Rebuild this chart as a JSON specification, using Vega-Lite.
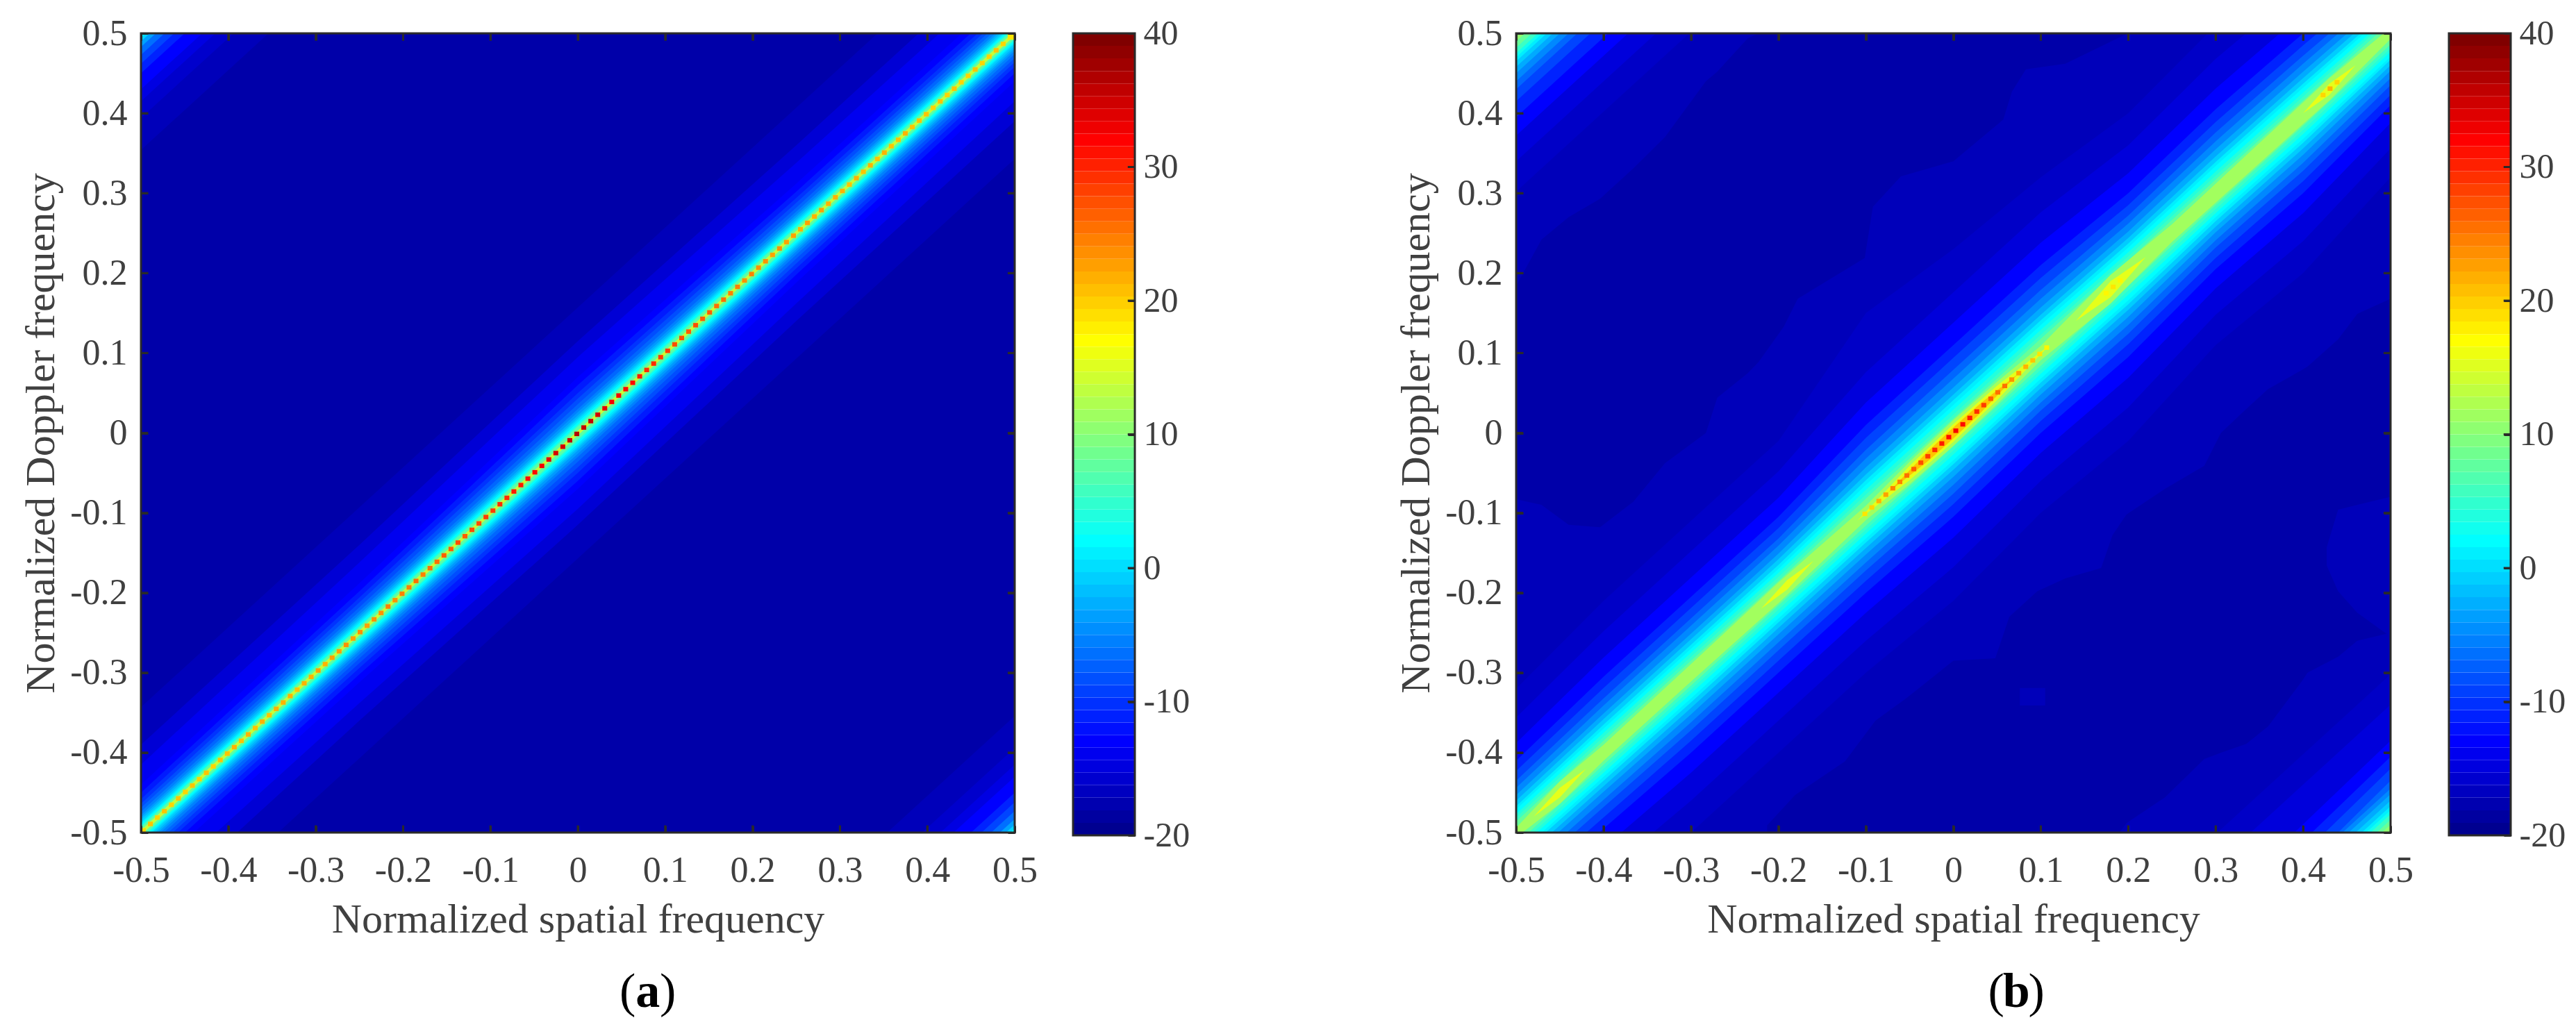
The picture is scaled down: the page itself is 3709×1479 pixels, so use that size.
{
"$schema":"https://vega.github.io/schema/vega-lite/v6.json",
"padding":{"left":29,"top":22,"right":0,"bottom":0},
"background":"white",
"config":{"view":{"stroke":null},"axis":{"labelFont":"Liberation Serif","titleFont":"Liberation Serif","labelFontSize":52,"titleFontSize":60,"titleFontWeight":"normal","labelColor":"#404040","titleColor":"#404040","domain":false,"tickColor":"#2a2a2a","tickWidth":3,"tickSize":-10,"grid":false,"labelFlush":false,"labelOverlap":false}},
"datasets":{
"tv":[{"x":-0.4,"y":-0.5,"y2":-0.491},{"x":-0.3,"y":-0.5,"y2":-0.491},{"x":-0.2,"y":-0.5,"y2":-0.491},{"x":-0.1,"y":-0.5,"y2":-0.491},{"x":0,"y":-0.5,"y2":-0.491},{"x":0.1,"y":-0.5,"y2":-0.491},{"x":0.2,"y":-0.5,"y2":-0.491},{"x":0.3,"y":-0.5,"y2":-0.491},{"x":0.4,"y":-0.5,"y2":-0.491},{"x":-0.4,"y":0.5,"y2":0.491},{"x":-0.3,"y":0.5,"y2":0.491},{"x":-0.2,"y":0.5,"y2":0.491},{"x":-0.1,"y":0.5,"y2":0.491},{"x":0,"y":0.5,"y2":0.491},{"x":0.1,"y":0.5,"y2":0.491},{"x":0.2,"y":0.5,"y2":0.491},{"x":0.3,"y":0.5,"y2":0.491},{"x":0.4,"y":0.5,"y2":0.491}],
"th":[{"y":-0.4,"x":-0.5,"x2":-0.492},{"y":-0.3,"x":-0.5,"x2":-0.492},{"y":-0.2,"x":-0.5,"x2":-0.492},{"y":-0.1,"x":-0.5,"x2":-0.492},{"y":0,"x":-0.5,"x2":-0.492},{"y":0.1,"x":-0.5,"x2":-0.492},{"y":0.2,"x":-0.5,"x2":-0.492},{"y":0.3,"x":-0.5,"x2":-0.492},{"y":0.4,"x":-0.5,"x2":-0.492},{"y":-0.4,"x":0.5,"x2":0.492},{"y":-0.3,"x":0.5,"x2":0.492},{"y":-0.2,"x":0.5,"x2":0.492},{"y":-0.1,"x":0.5,"x2":0.492},{"y":0,"x":0.5,"x2":0.492},{"y":0.1,"x":0.5,"x2":0.492},{"y":0.2,"x":0.5,"x2":0.492},{"y":0.3,"x":0.5,"x2":0.492},{"y":0.4,"x":0.5,"x2":0.492}],
"tc":[{"y":-10,"x":0.885,"x2":1},{"y":0,"x":0.885,"x2":1},{"y":10,"x":0.885,"x2":1},{"y":20,"x":0.885,"x2":1},{"y":30,"x":0.885,"x2":1}],
"cb":[{"lo":-20,"hi":-19.0625},{"lo":-19.0625,"hi":-18.125},{"lo":-18.125,"hi":-17.1875},{"lo":-17.1875,"hi":-16.25},{"lo":-16.25,"hi":-15.3125},{"lo":-15.3125,"hi":-14.375},{"lo":-14.375,"hi":-13.4375},{"lo":-13.4375,"hi":-12.5},{"lo":-12.5,"hi":-11.5625},{"lo":-11.5625,"hi":-10.625},{"lo":-10.625,"hi":-9.6875},{"lo":-9.6875,"hi":-8.75},{"lo":-8.75,"hi":-7.8125},{"lo":-7.8125,"hi":-6.875},{"lo":-6.875,"hi":-5.9375},{"lo":-5.9375,"hi":-5},{"lo":-5,"hi":-4.0625},{"lo":-4.0625,"hi":-3.125},{"lo":-3.125,"hi":-2.1875},{"lo":-2.1875,"hi":-1.25},{"lo":-1.25,"hi":-0.3125},{"lo":-0.3125,"hi":0.625},{"lo":0.625,"hi":1.5625},{"lo":1.5625,"hi":2.5},{"lo":2.5,"hi":3.4375},{"lo":3.4375,"hi":4.375},{"lo":4.375,"hi":5.3125},{"lo":5.3125,"hi":6.25},{"lo":6.25,"hi":7.1875},{"lo":7.1875,"hi":8.125},{"lo":8.125,"hi":9.0625},{"lo":9.0625,"hi":10},{"lo":10,"hi":10.9375},{"lo":10.9375,"hi":11.875},{"lo":11.875,"hi":12.8125},{"lo":12.8125,"hi":13.75},{"lo":13.75,"hi":14.6875},{"lo":14.6875,"hi":15.625},{"lo":15.625,"hi":16.5625},{"lo":16.5625,"hi":17.5},{"lo":17.5,"hi":18.4375},{"lo":18.4375,"hi":19.375},{"lo":19.375,"hi":20.3125},{"lo":20.3125,"hi":21.25},{"lo":21.25,"hi":22.1875},{"lo":22.1875,"hi":23.125},{"lo":23.125,"hi":24.0625},{"lo":24.0625,"hi":25},{"lo":25,"hi":25.9375},{"lo":25.9375,"hi":26.875},{"lo":26.875,"hi":27.8125},{"lo":27.8125,"hi":28.75},{"lo":28.75,"hi":29.6875},{"lo":29.6875,"hi":30.625},{"lo":30.625,"hi":31.5625},{"lo":31.5625,"hi":32.5},{"lo":32.5,"hi":33.4375},{"lo":33.4375,"hi":34.375},{"lo":34.375,"hi":35.3125},{"lo":35.3125,"hi":36.25},{"lo":36.25,"hi":37.1875},{"lo":37.1875,"hi":38.125},{"lo":38.125,"hi":39.0625},{"lo":39.0625,"hi":40}],
"aBands":[
{"b":"bg","v":-17.6,"x":-0.5,"y":0.5,"y2":-0.5},{"b":"bg","v":-17.6,"x":0.5,"y":0.5,"y2":-0.5},
{"b":"a1","v":-16.6,"x":-0.5,"y":-0.343,"y2":-0.657},{"b":"a1","v":-16.6,"x":0.5,"y":0.657,"y2":0.343},
{"b":"a2","v":-15,"x":-0.5,"y":-0.39,"y2":-0.61},{"b":"a2","v":-15,"x":-0.25,"y":-0.14,"y2":-0.36},{"b":"a2","v":-15,"x":0,"y":0.115,"y2":-0.115},{"b":"a2","v":-15,"x":0.25,"y":0.36,"y2":0.14},{"b":"a2","v":-15,"x":0.5,"y":0.61,"y2":0.39},
{"b":"a3","v":-13.4,"x":-0.5,"y":-0.415,"y2":-0.585},{"b":"a3","v":-13.4,"x":-0.25,"y":-0.162,"y2":-0.338},{"b":"a3","v":-13.4,"x":0,"y":0.095,"y2":-0.095},{"b":"a3","v":-13.4,"x":0.25,"y":0.338,"y2":0.162},{"b":"a3","v":-13.4,"x":0.5,"y":0.585,"y2":0.415},
{"b":"a4","v":-12.5,"x":-0.5,"y":-0.44,"y2":-0.56},{"b":"a4","v":-12.5,"x":-0.25,"y":-0.188,"y2":-0.312},{"b":"a4","v":-12.5,"x":0,"y":0.07,"y2":-0.07},{"b":"a4","v":-12.5,"x":0.25,"y":0.312,"y2":0.188},{"b":"a4","v":-12.5,"x":0.5,"y":0.56,"y2":0.44},
{"b":"a5","v":-11,"x":-0.5,"y":-0.45,"y2":-0.55},{"b":"a5","v":-11,"x":-0.25,"y":-0.198,"y2":-0.302},{"b":"a5","v":-11,"x":0,"y":0.06,"y2":-0.06},{"b":"a5","v":-11,"x":0.25,"y":0.302,"y2":0.198},{"b":"a5","v":-11,"x":0.5,"y":0.55,"y2":0.45},
{"b":"a6","v":-9.5,"x":-0.5,"y":-0.458,"y2":-0.542},{"b":"a6","v":-9.5,"x":-0.25,"y":-0.206,"y2":-0.294},{"b":"a6","v":-9.5,"x":0,"y":0.05,"y2":-0.05},{"b":"a6","v":-9.5,"x":0.25,"y":0.294,"y2":0.206},{"b":"a6","v":-9.5,"x":0.5,"y":0.542,"y2":0.458},
{"b":"a7","v":-8,"x":-0.5,"y":-0.464,"y2":-0.536},{"b":"a7","v":-8,"x":-0.25,"y":-0.212,"y2":-0.288},{"b":"a7","v":-8,"x":0,"y":0.043,"y2":-0.043},{"b":"a7","v":-8,"x":0.25,"y":0.288,"y2":0.212},{"b":"a7","v":-8,"x":0.5,"y":0.536,"y2":0.464},
{"b":"a8","v":-6.5,"x":-0.5,"y":-0.469,"y2":-0.531},{"b":"a8","v":-6.5,"x":-0.25,"y":-0.218,"y2":-0.282},{"b":"a8","v":-6.5,"x":0,"y":0.036,"y2":-0.036},{"b":"a8","v":-6.5,"x":0.25,"y":0.282,"y2":0.218},{"b":"a8","v":-6.5,"x":0.5,"y":0.531,"y2":0.469},
{"b":"a9","v":-5,"x":-0.5,"y":-0.474,"y2":-0.526},{"b":"a9","v":-5,"x":-0.25,"y":-0.223,"y2":-0.277},{"b":"a9","v":-5,"x":0,"y":0.03,"y2":-0.03},{"b":"a9","v":-5,"x":0.25,"y":0.277,"y2":0.223},{"b":"a9","v":-5,"x":0.5,"y":0.526,"y2":0.474},
{"b":"a10","v":-3.5,"x":-0.5,"y":-0.478,"y2":-0.522},{"b":"a10","v":-3.5,"x":-0.25,"y":-0.227,"y2":-0.273},{"b":"a10","v":-3.5,"x":0,"y":0.026,"y2":-0.026},{"b":"a10","v":-3.5,"x":0.25,"y":0.273,"y2":0.227},{"b":"a10","v":-3.5,"x":0.5,"y":0.522,"y2":0.478},
{"b":"a11","v":-2,"x":-0.5,"y":-0.481,"y2":-0.519},{"b":"a11","v":-2,"x":-0.25,"y":-0.23,"y2":-0.27},{"b":"a11","v":-2,"x":0,"y":0.022,"y2":-0.022},{"b":"a11","v":-2,"x":0.25,"y":0.27,"y2":0.23},{"b":"a11","v":-2,"x":0.5,"y":0.519,"y2":0.481},
{"b":"a12","v":-0.5,"x":-0.5,"y":-0.484,"y2":-0.516},{"b":"a12","v":-0.5,"x":-0.25,"y":-0.233,"y2":-0.267},{"b":"a12","v":-0.5,"x":0,"y":0.019,"y2":-0.019},{"b":"a12","v":-0.5,"x":0.25,"y":0.267,"y2":0.233},{"b":"a12","v":-0.5,"x":0.5,"y":0.516,"y2":0.484},
{"b":"a13","v":1,"x":-0.5,"y":-0.487,"y2":-0.513},{"b":"a13","v":1,"x":-0.25,"y":-0.2355,"y2":-0.2645},{"b":"a13","v":1,"x":0,"y":0.0165,"y2":-0.0165},{"b":"a13","v":1,"x":0.25,"y":0.2645,"y2":0.2355},{"b":"a13","v":1,"x":0.5,"y":0.513,"y2":0.487},
{"b":"a14","v":2.5,"x":-0.5,"y":-0.489,"y2":-0.511},{"b":"a14","v":2.5,"x":-0.25,"y":-0.238,"y2":-0.262},{"b":"a14","v":2.5,"x":0,"y":0.0135,"y2":-0.0135},{"b":"a14","v":2.5,"x":0.25,"y":0.262,"y2":0.238},{"b":"a14","v":2.5,"x":0.5,"y":0.511,"y2":0.489},
{"b":"a15","v":5,"x":-0.5,"y":-0.4915,"y2":-0.5085},{"b":"a15","v":5,"x":-0.25,"y":-0.241,"y2":-0.259},{"b":"a15","v":5,"x":0,"y":0.0105,"y2":-0.0105},{"b":"a15","v":5,"x":0.25,"y":0.259,"y2":0.241},{"b":"a15","v":5,"x":0.5,"y":0.5085,"y2":0.4915},
{"b":"a16","v":8,"x":-0.5,"y":-0.4935,"y2":-0.5065},{"b":"a16","v":8,"x":-0.25,"y":-0.243,"y2":-0.257},{"b":"a16","v":8,"x":0,"y":0.008,"y2":-0.008},{"b":"a16","v":8,"x":0.25,"y":0.257,"y2":0.243},{"b":"a16","v":8,"x":0.5,"y":0.5065,"y2":0.4935},
{"b":"a17","v":14,"x":-0.5,"y":-0.497,"y2":-0.503},{"b":"a17","v":14,"x":0.5,"y":0.503,"y2":0.497},
{"b":"t1","v":-16.6,"x":-0.5,"y":0.5,"y2":0.354},{"b":"t1","v":-16.6,"x":-0.354,"y":0.5,"y2":0.5},
{"b":"t2","v":-15.5,"x":-0.5,"y":0.5,"y2":0.394},{"b":"t2","v":-15.5,"x":-0.394,"y":0.5,"y2":0.5},
{"b":"t3","v":-14.2,"x":-0.5,"y":0.5,"y2":0.415},{"b":"t3","v":-14.2,"x":-0.415,"y":0.5,"y2":0.5},
{"b":"t4","v":-12.5,"x":-0.5,"y":0.5,"y2":0.43},{"b":"t4","v":-12.5,"x":-0.43,"y":0.5,"y2":0.5},
{"b":"t5","v":-10.5,"x":-0.5,"y":0.5,"y2":0.45},{"b":"t5","v":-10.5,"x":-0.45,"y":0.5,"y2":0.5},
{"b":"t6","v":-8.5,"x":-0.5,"y":0.5,"y2":0.462},{"b":"t6","v":-8.5,"x":-0.462,"y":0.5,"y2":0.5},
{"b":"t7","v":-6,"x":-0.5,"y":0.5,"y2":0.473},{"b":"t7","v":-6,"x":-0.473,"y":0.5,"y2":0.5},
{"b":"t8","v":-3,"x":-0.5,"y":0.5,"y2":0.483},{"b":"t8","v":-3,"x":-0.483,"y":0.5,"y2":0.5},
{"b":"t9","v":0,"x":-0.5,"y":0.5,"y2":0.49},{"b":"t9","v":0,"x":-0.49,"y":0.5,"y2":0.5},
{"b":"t10","v":3,"x":-0.5,"y":0.5,"y2":0.495},{"b":"t10","v":3,"x":-0.495,"y":0.5,"y2":0.5},
{"b":"r1","v":-16.6,"x":0.354,"y":-0.5,"y2":-0.5},{"b":"r1","v":-16.6,"x":0.5,"y":-0.354,"y2":-0.5},
{"b":"r2","v":-15.5,"x":0.394,"y":-0.5,"y2":-0.5},{"b":"r2","v":-15.5,"x":0.5,"y":-0.394,"y2":-0.5},
{"b":"r3","v":-14.2,"x":0.415,"y":-0.5,"y2":-0.5},{"b":"r3","v":-14.2,"x":0.5,"y":-0.415,"y2":-0.5},
{"b":"r4","v":-12.5,"x":0.43,"y":-0.5,"y2":-0.5},{"b":"r4","v":-12.5,"x":0.5,"y":-0.43,"y2":-0.5},
{"b":"r5","v":-10.5,"x":0.45,"y":-0.5,"y2":-0.5},{"b":"r5","v":-10.5,"x":0.5,"y":-0.45,"y2":-0.5},
{"b":"r6","v":-8.5,"x":0.462,"y":-0.5,"y2":-0.5},{"b":"r6","v":-8.5,"x":0.5,"y":-0.462,"y2":-0.5},
{"b":"r7","v":-6,"x":0.473,"y":-0.5,"y2":-0.5},{"b":"r7","v":-6,"x":0.5,"y":-0.473,"y2":-0.5},
{"b":"r8","v":-3,"x":0.483,"y":-0.5,"y2":-0.5},{"b":"r8","v":-3,"x":0.5,"y":-0.483,"y2":-0.5},
{"b":"r9","v":0,"x":0.49,"y":-0.5,"y2":-0.5},{"b":"r9","v":0,"x":0.5,"y":-0.49,"y2":-0.5},
{"b":"r10","v":3,"x":0.495,"y":-0.5,"y2":-0.5},{"b":"r10","v":3,"x":0.5,"y":-0.495,"y2":-0.5}
],
"aCells":[
{"x":-0.5,"x2":-0.4944,"v":20},{"x":-0.492,"x2":-0.4864,"v":21},{"x":-0.484,"x2":-0.4784,"v":20},{"x":-0.476,"x2":-0.4704,"v":21},{"x":-0.468,"x2":-0.4624,"v":20},{"x":-0.46,"x2":-0.4544,"v":21},{"x":-0.452,"x2":-0.4464,"v":20},{"x":-0.444,"x2":-0.4384,"v":21},{"x":-0.436,"x2":-0.4304,"v":20},{"x":-0.428,"x2":-0.4224,"v":21},{"x":-0.42,"x2":-0.4144,"v":20},{"x":-0.412,"x2":-0.4064,"v":21},{"x":-0.404,"x2":-0.3984,"v":21},
{"x":-0.396,"x2":-0.3904,"v":22},{"x":-0.388,"x2":-0.3824,"v":21},{"x":-0.38,"x2":-0.3744,"v":22},{"x":-0.372,"x2":-0.3664,"v":21},{"x":-0.364,"x2":-0.3584,"v":22},{"x":-0.356,"x2":-0.3504,"v":21},{"x":-0.348,"x2":-0.3424,"v":22},{"x":-0.34,"x2":-0.3344,"v":22},{"x":-0.332,"x2":-0.3264,"v":22},{"x":-0.324,"x2":-0.3184,"v":21},{"x":-0.316,"x2":-0.3104,"v":22},{"x":-0.308,"x2":-0.3024,"v":22},
{"x":-0.3,"x2":-0.2944,"v":23},{"x":-0.292,"x2":-0.2864,"v":22},{"x":-0.284,"x2":-0.2784,"v":23},{"x":-0.276,"x2":-0.2704,"v":23},{"x":-0.268,"x2":-0.2624,"v":24},{"x":-0.26,"x2":-0.2544,"v":23},{"x":-0.252,"x2":-0.2464,"v":24},{"x":-0.244,"x2":-0.2384,"v":23},{"x":-0.236,"x2":-0.2304,"v":24},{"x":-0.228,"x2":-0.2224,"v":24},{"x":-0.22,"x2":-0.2144,"v":25},{"x":-0.212,"x2":-0.2064,"v":24},{"x":-0.204,"x2":-0.1984,"v":25},
{"x":-0.196,"x2":-0.1904,"v":25},{"x":-0.188,"x2":-0.1824,"v":26},{"x":-0.18,"x2":-0.1744,"v":25},{"x":-0.172,"x2":-0.1664,"v":26},{"x":-0.164,"x2":-0.1584,"v":26},{"x":-0.156,"x2":-0.1504,"v":27},{"x":-0.148,"x2":-0.1424,"v":27},{"x":-0.14,"x2":-0.1344,"v":28},{"x":-0.132,"x2":-0.1264,"v":27},{"x":-0.124,"x2":-0.1184,"v":28},{"x":-0.116,"x2":-0.1104,"v":28},{"x":-0.108,"x2":-0.1024,"v":29},
{"x":-0.1,"x2":-0.0944,"v":29},{"x":-0.092,"x2":-0.0864,"v":30},{"x":-0.084,"x2":-0.0784,"v":30},{"x":-0.076,"x2":-0.0704,"v":31},{"x":-0.068,"x2":-0.0624,"v":31},{"x":-0.06,"x2":-0.0544,"v":32},{"x":-0.052,"x2":-0.0464,"v":32},{"x":-0.044,"x2":-0.0384,"v":33},{"x":-0.036,"x2":-0.0304,"v":34},{"x":-0.028,"x2":-0.0224,"v":35},{"x":-0.02,"x2":-0.0144,"v":35},{"x":-0.012,"x2":-0.0064,"v":36},{"x":-0.004,"x2":0.0016,"v":37},
{"x":0.004,"x2":0.0096,"v":36},{"x":0.012,"x2":0.0176,"v":36},{"x":0.02,"x2":0.0256,"v":35},{"x":0.028,"x2":0.0336,"v":34},{"x":0.036,"x2":0.0416,"v":33},{"x":0.044,"x2":0.0496,"v":33},{"x":0.052,"x2":0.0576,"v":32},{"x":0.06,"x2":0.0656,"v":32},{"x":0.068,"x2":0.0736,"v":31},{"x":0.076,"x2":0.0816,"v":30},{"x":0.084,"x2":0.0896,"v":30},{"x":0.092,"x2":0.0976,"v":29},{"x":0.1,"x2":0.1056,"v":29},
{"x":0.108,"x2":0.1136,"v":28},{"x":0.116,"x2":0.1216,"v":28},{"x":0.124,"x2":0.1296,"v":27},{"x":0.132,"x2":0.1376,"v":28},{"x":0.14,"x2":0.1456,"v":27},{"x":0.148,"x2":0.1536,"v":27},{"x":0.156,"x2":0.1616,"v":26},{"x":0.164,"x2":0.1696,"v":26},{"x":0.172,"x2":0.1776,"v":25},{"x":0.18,"x2":0.1856,"v":25},{"x":0.188,"x2":0.1936,"v":24},{"x":0.196,"x2":0.2016,"v":25},
{"x":0.204,"x2":0.2096,"v":24},{"x":0.212,"x2":0.2176,"v":24},{"x":0.22,"x2":0.2256,"v":23},{"x":0.228,"x2":0.2336,"v":24},{"x":0.236,"x2":0.2416,"v":23},{"x":0.244,"x2":0.2496,"v":23},{"x":0.252,"x2":0.2576,"v":22},{"x":0.26,"x2":0.2656,"v":23},{"x":0.268,"x2":0.2736,"v":22},{"x":0.276,"x2":0.2816,"v":23},{"x":0.284,"x2":0.2896,"v":22},{"x":0.292,"x2":0.2976,"v":22},{"x":0.3,"x2":0.3056,"v":22},
{"x":0.308,"x2":0.3136,"v":21},{"x":0.316,"x2":0.3216,"v":22},{"x":0.324,"x2":0.3296,"v":21},{"x":0.332,"x2":0.3376,"v":22},{"x":0.34,"x2":0.3456,"v":21},{"x":0.348,"x2":0.3536,"v":22},{"x":0.356,"x2":0.3616,"v":21},{"x":0.364,"x2":0.3696,"v":21},{"x":0.372,"x2":0.3776,"v":22},{"x":0.38,"x2":0.3856,"v":21},{"x":0.388,"x2":0.3936,"v":21},{"x":0.396,"x2":0.4016,"v":21},
{"x":0.404,"x2":0.4096,"v":20},{"x":0.412,"x2":0.4176,"v":21},{"x":0.42,"x2":0.4256,"v":20},{"x":0.428,"x2":0.4336,"v":21},{"x":0.436,"x2":0.4416,"v":20},{"x":0.444,"x2":0.4496,"v":20},{"x":0.452,"x2":0.4576,"v":21},{"x":0.46,"x2":0.4656,"v":20},{"x":0.468,"x2":0.4736,"v":20},{"x":0.476,"x2":0.4816,"v":21},{"x":0.484,"x2":0.4896,"v":20},{"x":0.492,"x2":0.5,"v":19}
],
"bBands":[
{"b":"bg","v":-16.6,"x":-0.5,"y":0.5,"y2":-0.5},{"b":"bg","v":-16.6,"x":0.5,"y":0.5,"y2":-0.5},
{"b":"d1","v":-17.6,"x":-0.5,"y":0.184,"y2":-0.083},{"b":"d1","v":-17.6,"x":-0.471,"y":0.242,"y2":-0.09},{"b":"d1","v":-17.6,"x":-0.44,"y":0.27,"y2":-0.115},{"b":"d1","v":-17.6,"x":-0.404,"y":0.293,"y2":-0.118},{"b":"d1","v":-17.6,"x":-0.366,"y":0.331,"y2":-0.086},{"b":"d1","v":-17.6,"x":-0.33,"y":0.37,"y2":-0.038},{"b":"d1","v":-17.6,"x":-0.283,"y":0.44,"y2":0},{"b":"d1","v":-17.6,"x":-0.27,"y":0.452,"y2":0.044},{"b":"d1","v":-17.6,"x":-0.235,"y":0.494,"y2":0.075},{"b":"d1","v":-17.6,"x":-0.2226,"y":0.5,"y2":0.089},{"b":"d1","v":-17.6,"x":-0.194,"y":0.5,"y2":0.133},{"b":"d1","v":-17.6,"x":-0.178,"y":0.5,"y2":0.168},{"b":"d1","v":-17.6,"x":-0.1014,"y":0.5,"y2":0.219},{"b":"d1","v":-17.6,"x":-0.092,"y":0.5,"y2":0.283},{"b":"d1","v":-17.6,"x":-0.06,"y":0.5,"y2":0.321},{"b":"d1","v":-17.6,"x":0,"y":0.5,"y2":0.34},{"b":"d1","v":-17.6,"x":0.057,"y":0.5,"y2":0.392},{"b":"d1","v":-17.6,"x":0.067,"y":0.5,"y2":0.427},{"b":"d1","v":-17.6,"x":0.083,"y":0.5,"y2":0.455},{"b":"d1","v":-17.6,"x":0.128,"y":0.5,"y2":0.462},{"b":"d1","v":-17.6,"x":0.188,"y":0.5,"y2":0.494},{"b":"d1","v":-17.6,"x":0.2,"y":0.5,"y2":0.5},
{"b":"d2","v":-17.6,"x":-0.213,"y":-0.491,"y2":-0.5},{"b":"d2","v":-17.6,"x":-0.181,"y":-0.453,"y2":-0.5},{"b":"d2","v":-17.6,"x":-0.124,"y":-0.411,"y2":-0.5},{"b":"d2","v":-17.6,"x":-0.089,"y":-0.36,"y2":-0.5},{"b":"d2","v":-17.6,"x":-0.054,"y":-0.332,"y2":-0.5},{"b":"d2","v":-17.6,"x":0,"y":-0.285,"y2":-0.5},{"b":"d2","v":-17.6,"x":0.048,"y":-0.282,"y2":-0.5},{"b":"d2","v":-17.6,"x":0.064,"y":-0.23,"y2":-0.5},{"b":"d2","v":-17.6,"x":0.096,"y":-0.198,"y2":-0.5},{"b":"d2","v":-17.6,"x":0.128,"y":-0.182,"y2":-0.5},{"b":"d2","v":-17.6,"x":0.169,"y":-0.169,"y2":-0.5},{"b":"d2","v":-17.6,"x":0.182,"y":-0.128,"y2":-0.5},{"b":"d2","v":-17.6,"x":0.19,"y":-0.115,"y2":-0.5},{"b":"d2","v":-17.6,"x":0.198,"y":-0.102,"y2":-0.488},{"b":"d2","v":-17.6,"x":0.242,"y":-0.07,"y2":-0.456},{"b":"d2","v":-17.6,"x":0.287,"y":-0.041,"y2":-0.408},{"b":"d2","v":-17.6,"x":0.306,"y":0,"y2":-0.4},{"b":"d2","v":-17.6,"x":0.335,"y":0.03,"y2":-0.389},{"b":"d2","v":-17.6,"x":0.36,"y":0.055,"y2":-0.367},{"b":"d2","v":-17.6,"x":0.399,"y":0.079,"y2":-0.31},{"b":"d2","v":-17.6,"x":0.405,"y":0.083,"y2":-0.3},{"b":"d2","v":-17.6,"x":0.44,"y":0.117,"y2":-0.28},{"b":"d2","v":-17.6,"x":0.462,"y":0.149,"y2":-0.26},{"b":"d2","v":-17.6,"x":0.5,"y":0.168,"y2":-0.25},
{"b":"p","v":-16.6,"x":0.427,"y":-0.143,"y2":-0.166},{"b":"p","v":-16.6,"x":0.44,"y":-0.096,"y2":-0.198},{"b":"p","v":-16.6,"x":0.462,"y":-0.09,"y2":-0.225},{"b":"p","v":-16.6,"x":0.5,"y":-0.08,"y2":-0.255},
{"b":"q","v":-16.6,"x":0.076,"y":-0.319,"y2":-0.341},{"b":"q","v":-16.6,"x":0.105,"y":-0.319,"y2":-0.341},
{"b":"b1","v":-15.8,"x":-0.5,"y":-0.32,"y2":-0.68},{"b":"b1","v":-15.8,"x":-0.4,"y":-0.21,"y2":-0.59},{"b":"b1","v":-15.8,"x":-0.3,"y":-0.11,"y2":-0.5},{"b":"b1","v":-15.8,"x":-0.2,"y":-0.01,"y2":-0.4},{"b":"b1","v":-15.8,"x":-0.1,"y":0.15,"y2":-0.3},{"b":"b1","v":-15.8,"x":0,"y":0.23,"y2":-0.21},{"b":"b1","v":-15.8,"x":0.1,"y":0.32,"y2":-0.1},{"b":"b1","v":-15.8,"x":0.2,"y":0.4,"y2":-0.01},{"b":"b1","v":-15.8,"x":0.3,"y":0.51,"y2":0.11},{"b":"b1","v":-15.8,"x":0.4,"y":0.6,"y2":0.2},{"b":"b1","v":-15.8,"x":0.5,"y":0.68,"y2":0.32},
{"b":"b2","v":-14.6,"x":-0.5,"y":-0.356,"y2":-0.644},{"b":"b2","v":-14.6,"x":-0.4,"y":-0.248,"y2":-0.552},{"b":"b2","v":-14.6,"x":-0.3,"y":-0.148,"y2":-0.46},{"b":"b2","v":-14.6,"x":-0.2,"y":-0.048,"y2":-0.36},{"b":"b2","v":-14.6,"x":-0.1,"y":0.076,"y2":-0.26},{"b":"b2","v":-14.6,"x":0,"y":0.176,"y2":-0.168},{"b":"b2","v":-14.6,"x":0.1,"y":0.276,"y2":-0.06},{"b":"b2","v":-14.6,"x":0.2,"y":0.36,"y2":0.032},{"b":"b2","v":-14.6,"x":0.3,"y":0.468,"y2":0.148},{"b":"b2","v":-14.6,"x":0.4,"y":0.56,"y2":0.24},{"b":"b2","v":-14.6,"x":0.5,"y":0.644,"y2":0.356},
{"b":"b3","v":-12.5,"x":-0.5,"y":-0.388,"y2":-0.612},{"b":"b3","v":-12.5,"x":-0.4,"y":-0.281,"y2":-0.519},{"b":"b3","v":-12.5,"x":-0.3,"y":-0.181,"y2":-0.425},{"b":"b3","v":-12.5,"x":-0.2,"y":-0.081,"y2":-0.325},{"b":"b3","v":-12.5,"x":-0.1,"y":0.038,"y2":-0.225},{"b":"b3","v":-12.5,"x":0,"y":0.138,"y2":-0.131},{"b":"b3","v":-12.5,"x":0.1,"y":0.238,"y2":-0.025},{"b":"b3","v":-12.5,"x":0.2,"y":0.325,"y2":0.069},{"b":"b3","v":-12.5,"x":0.3,"y":0.431,"y2":0.181},{"b":"b3","v":-12.5,"x":0.4,"y":0.525,"y2":0.275},{"b":"b3","v":-12.5,"x":0.5,"y":0.612,"y2":0.388},
{"b":"b4","v":-10.5,"x":-0.5,"y":-0.41,"y2":-0.59},{"b":"b4","v":-10.5,"x":-0.4,"y":-0.305,"y2":-0.495},{"b":"b4","v":-10.5,"x":-0.3,"y":-0.205,"y2":-0.4},{"b":"b4","v":-10.5,"x":-0.2,"y":-0.105,"y2":-0.3},{"b":"b4","v":-10.5,"x":-0.1,"y":0.01,"y2":-0.2},{"b":"b4","v":-10.5,"x":0,"y":0.11,"y2":-0.105},{"b":"b4","v":-10.5,"x":0.1,"y":0.21,"y2":0},{"b":"b4","v":-10.5,"x":0.2,"y":0.3,"y2":0.095},{"b":"b4","v":-10.5,"x":0.3,"y":0.405,"y2":0.205},{"b":"b4","v":-10.5,"x":0.4,"y":0.5,"y2":0.3},{"b":"b4","v":-10.5,"x":0.5,"y":0.59,"y2":0.41},
{"b":"b5","v":-8.5,"x":-0.5,"y":-0.423,"y2":-0.577},{"b":"b5","v":-8.5,"x":-0.4,"y":-0.319,"y2":-0.481},{"b":"b5","v":-8.5,"x":-0.3,"y":-0.219,"y2":-0.385},{"b":"b5","v":-8.5,"x":-0.2,"y":-0.119,"y2":-0.285},{"b":"b5","v":-8.5,"x":-0.1,"y":-0.006,"y2":-0.185},{"b":"b5","v":-8.5,"x":0,"y":0.094,"y2":-0.089},{"b":"b5","v":-8.5,"x":0.1,"y":0.194,"y2":0.015},{"b":"b5","v":-8.5,"x":0.2,"y":0.285,"y2":0.111},{"b":"b5","v":-8.5,"x":0.3,"y":0.389,"y2":0.219},{"b":"b5","v":-8.5,"x":0.4,"y":0.485,"y2":0.315},{"b":"b5","v":-8.5,"x":0.5,"y":0.577,"y2":0.423},
{"b":"b6","v":-6.5,"x":-0.5,"y":-0.435,"y2":-0.565},{"b":"b6","v":-6.5,"x":-0.4,"y":-0.332,"y2":-0.468},{"b":"b6","v":-6.5,"x":-0.3,"y":-0.232,"y2":-0.372},{"b":"b6","v":-6.5,"x":-0.2,"y":-0.132,"y2":-0.272},{"b":"b6","v":-6.5,"x":-0.1,"y":-0.021,"y2":-0.172},{"b":"b6","v":-6.5,"x":0,"y":0.079,"y2":-0.076},{"b":"b6","v":-6.5,"x":0.1,"y":0.179,"y2":0.028},{"b":"b6","v":-6.5,"x":0.2,"y":0.272,"y2":0.124},{"b":"b6","v":-6.5,"x":0.3,"y":0.376,"y2":0.232},{"b":"b6","v":-6.5,"x":0.4,"y":0.472,"y2":0.328},{"b":"b6","v":-6.5,"x":0.5,"y":0.565,"y2":0.435},
{"b":"b7","v":-4.5,"x":-0.5,"y":-0.444,"y2":-0.556},{"b":"b7","v":-4.5,"x":-0.4,"y":-0.341,"y2":-0.459},{"b":"b7","v":-4.5,"x":-0.3,"y":-0.241,"y2":-0.362},{"b":"b7","v":-4.5,"x":-0.2,"y":-0.141,"y2":-0.262},{"b":"b7","v":-4.5,"x":-0.1,"y":-0.032,"y2":-0.162},{"b":"b7","v":-4.5,"x":0,"y":0.068,"y2":-0.065},{"b":"b7","v":-4.5,"x":0.1,"y":0.168,"y2":0.038},{"b":"b7","v":-4.5,"x":0.2,"y":0.262,"y2":0.135},{"b":"b7","v":-4.5,"x":0.3,"y":0.365,"y2":0.241},{"b":"b7","v":-4.5,"x":0.4,"y":0.462,"y2":0.338},{"b":"b7","v":-4.5,"x":0.5,"y":0.556,"y2":0.444},
{"b":"b8","v":-2.5,"x":-0.5,"y":-0.453,"y2":-0.547},{"b":"b8","v":-2.5,"x":-0.4,"y":-0.351,"y2":-0.449},{"b":"b8","v":-2.5,"x":-0.3,"y":-0.251,"y2":-0.352},{"b":"b8","v":-2.5,"x":-0.2,"y":-0.151,"y2":-0.252},{"b":"b8","v":-2.5,"x":-0.1,"y":-0.043,"y2":-0.152},{"b":"b8","v":-2.5,"x":0,"y":0.057,"y2":-0.055},{"b":"b8","v":-2.5,"x":0.1,"y":0.157,"y2":0.048},{"b":"b8","v":-2.5,"x":0.2,"y":0.252,"y2":0.145},{"b":"b8","v":-2.5,"x":0.3,"y":0.355,"y2":0.251},{"b":"b8","v":-2.5,"x":0.4,"y":0.452,"y2":0.348},{"b":"b8","v":-2.5,"x":0.5,"y":0.547,"y2":0.453},
{"b":"b9","v":-0.5,"x":-0.5,"y":-0.46,"y2":-0.54},{"b":"b9","v":-0.5,"x":-0.4,"y":-0.358,"y2":-0.442},{"b":"b9","v":-0.5,"x":-0.3,"y":-0.258,"y2":-0.344},{"b":"b9","v":-0.5,"x":-0.2,"y":-0.158,"y2":-0.244},{"b":"b9","v":-0.5,"x":-0.1,"y":-0.052,"y2":-0.144},{"b":"b9","v":-0.5,"x":0,"y":0.048,"y2":-0.046},{"b":"b9","v":-0.5,"x":0.1,"y":0.148,"y2":0.056},{"b":"b9","v":-0.5,"x":0.2,"y":0.244,"y2":0.154},{"b":"b9","v":-0.5,"x":0.3,"y":0.346,"y2":0.258},{"b":"b9","v":-0.5,"x":0.4,"y":0.444,"y2":0.356},{"b":"b9","v":-0.5,"x":0.5,"y":0.54,"y2":0.46},
{"b":"b10","v":1.5,"x":-0.5,"y":-0.467,"y2":-0.533},{"b":"b10","v":1.5,"x":-0.4,"y":-0.365,"y2":-0.435},{"b":"b10","v":1.5,"x":-0.3,"y":-0.265,"y2":-0.337},{"b":"b10","v":1.5,"x":-0.2,"y":-0.165,"y2":-0.237},{"b":"b10","v":1.5,"x":-0.1,"y":-0.059,"y2":-0.137},{"b":"b10","v":1.5,"x":0,"y":0.041,"y2":-0.039},{"b":"b10","v":1.5,"x":0.1,"y":0.141,"y2":0.063},{"b":"b10","v":1.5,"x":0.2,"y":0.237,"y2":0.161},{"b":"b10","v":1.5,"x":0.3,"y":0.339,"y2":0.265},{"b":"b10","v":1.5,"x":0.4,"y":0.437,"y2":0.363},{"b":"b10","v":1.5,"x":0.5,"y":0.533,"y2":0.467},
{"b":"b11","v":2.5,"x":-0.5,"y":-0.471,"y2":-0.529},{"b":"b11","v":2.5,"x":-0.4,"y":-0.37,"y2":-0.43},{"b":"b11","v":2.5,"x":-0.3,"y":-0.27,"y2":-0.332},{"b":"b11","v":2.5,"x":-0.2,"y":-0.17,"y2":-0.232},{"b":"b11","v":2.5,"x":-0.1,"y":-0.065,"y2":-0.132},{"b":"b11","v":2.5,"x":0,"y":0.035,"y2":-0.034},{"b":"b11","v":2.5,"x":0.1,"y":0.135,"y2":0.068},{"b":"b11","v":2.5,"x":0.2,"y":0.232,"y2":0.166},{"b":"b11","v":2.5,"x":0.3,"y":0.334,"y2":0.27},{"b":"b11","v":2.5,"x":0.4,"y":0.432,"y2":0.368},{"b":"b11","v":2.5,"x":0.5,"y":0.529,"y2":0.471},
{"b":"b12","v":4.5,"x":-0.5,"y":-0.477,"y2":-0.523},{"b":"b12","v":4.5,"x":-0.4,"y":-0.375,"y2":-0.425},{"b":"b12","v":4.5,"x":-0.3,"y":-0.275,"y2":-0.326},{"b":"b12","v":4.5,"x":-0.2,"y":-0.175,"y2":-0.226},{"b":"b12","v":4.5,"x":-0.1,"y":-0.071,"y2":-0.126},{"b":"b12","v":4.5,"x":0,"y":0.029,"y2":-0.027},{"b":"b12","v":4.5,"x":0.1,"y":0.129,"y2":0.074},{"b":"b12","v":4.5,"x":0.2,"y":0.226,"y2":0.173},{"b":"b12","v":4.5,"x":0.3,"y":0.327,"y2":0.275},{"b":"b12","v":4.5,"x":0.4,"y":0.426,"y2":0.374},{"b":"b12","v":4.5,"x":0.5,"y":0.523,"y2":0.477},
{"b":"b13","v":6,"x":-0.5,"y":-0.481,"y2":-0.519},{"b":"b13","v":6,"x":-0.4,"y":-0.38,"y2":-0.42},{"b":"b13","v":6,"x":-0.3,"y":-0.28,"y2":-0.321},{"b":"b13","v":6,"x":-0.2,"y":-0.18,"y2":-0.221},{"b":"b13","v":6,"x":-0.1,"y":-0.077,"y2":-0.121},{"b":"b13","v":6,"x":0,"y":0.023,"y2":-0.022},{"b":"b13","v":6,"x":0.1,"y":0.123,"y2":0.079},{"b":"b13","v":6,"x":0.2,"y":0.221,"y2":0.178},{"b":"b13","v":6,"x":0.3,"y":0.322,"y2":0.28},{"b":"b13","v":6,"x":0.4,"y":0.421,"y2":0.379},{"b":"b13","v":6,"x":0.5,"y":0.519,"y2":0.481},
{"b":"b14","v":8.5,"x":-0.5,"y":-0.486,"y2":-0.514},{"b":"b14","v":8.5,"x":-0.4,"y":-0.385,"y2":-0.415},{"b":"b14","v":8.5,"x":-0.3,"y":-0.285,"y2":-0.316},{"b":"b14","v":8.5,"x":-0.2,"y":-0.185,"y2":-0.216},{"b":"b14","v":8.5,"x":-0.1,"y":-0.082,"y2":-0.116},{"b":"b14","v":8.5,"x":0,"y":0.018,"y2":-0.017},{"b":"b14","v":8.5,"x":0.1,"y":0.118,"y2":0.084},{"b":"b14","v":8.5,"x":0.2,"y":0.216,"y2":0.184},{"b":"b14","v":8.5,"x":0.3,"y":0.317,"y2":0.285},{"b":"b14","v":8.5,"x":0.4,"y":0.416,"y2":0.384},{"b":"b14","v":8.5,"x":0.5,"y":0.514,"y2":0.486},
{"b":"b15","v":12,"x":-0.5,"y":-0.494,"y2":-0.506},{"b":"b15","v":12,"x":-0.45,"y":-0.436,"y2":-0.464},{"b":"b15","v":12,"x":-0.4,"y":-0.39,"y2":-0.41},{"b":"b15","v":12,"x":-0.3,"y":-0.289,"y2":-0.311},{"b":"b15","v":12,"x":-0.2,"y":-0.187,"y2":-0.213},{"b":"b15","v":12,"x":-0.1,"y":-0.091,"y2":-0.109},{"b":"b15","v":12,"x":-0.05,"y":-0.036,"y2":-0.064},{"b":"b15","v":12,"x":0,"y":0.016,"y2":-0.016},{"b":"b15","v":12,"x":0.05,"y":0.064,"y2":0.036},{"b":"b15","v":12,"x":0.1,"y":0.109,"y2":0.091},{"b":"b15","v":12,"x":0.18,"y":0.198,"y2":0.162},{"b":"b15","v":12,"x":0.25,"y":0.261,"y2":0.239},{"b":"b15","v":12,"x":0.3,"y":0.312,"y2":0.288},{"b":"b15","v":12,"x":0.43,"y":0.444,"y2":0.416},{"b":"b15","v":12,"x":0.5,"y":0.507,"y2":0.493},
{"b":"c1","v":16,"x":-0.48,"y":-0.48,"y2":-0.48},{"b":"c1","v":16,"x":-0.45,"y":-0.444,"y2":-0.456},{"b":"c1","v":16,"x":-0.42,"y":-0.42,"y2":-0.42},
{"b":"c2","v":16,"x":-0.22,"y":-0.22,"y2":-0.22},{"b":"c2","v":16,"x":-0.19,"y":-0.184,"y2":-0.196},{"b":"c2","v":16,"x":-0.16,"y":-0.16,"y2":-0.16},
{"b":"c3","v":16,"x":-0.11,"y":-0.11,"y2":-0.11},{"b":"c3","v":16,"x":-0.05,"y":-0.041,"y2":-0.059},{"b":"c3","v":16,"x":0,"y":0.011,"y2":-0.011},{"b":"c3","v":16,"x":0.05,"y":0.059,"y2":0.041},{"b":"c3","v":16,"x":0.11,"y":0.11,"y2":0.11},
{"b":"c4","v":16,"x":0.14,"y":0.14,"y2":0.14},{"b":"c4","v":16,"x":0.18,"y":0.19,"y2":0.17},{"b":"c4","v":16,"x":0.22,"y":0.22,"y2":0.22},
{"b":"c5","v":16,"x":0.4,"y":0.4,"y2":0.4},{"b":"c5","v":16,"x":0.43,"y":0.437,"y2":0.423},{"b":"c5","v":16,"x":0.46,"y":0.46,"y2":0.46},
{"b":"e1","v":21,"x":-0.075,"y":-0.075,"y2":-0.075},{"b":"e1","v":21,"x":-0.03,"y":-0.024,"y2":-0.036},{"b":"e1","v":21,"x":0,"y":0.007,"y2":-0.007},{"b":"e1","v":21,"x":0.03,"y":0.036,"y2":0.024},{"b":"e1","v":21,"x":0.075,"y":0.075,"y2":0.075},
{"b":"t1","v":-15.8,"x":-0.5,"y":0.5,"y2":0.302},{"b":"t1","v":-15.8,"x":-0.302,"y":0.5,"y2":0.5},
{"b":"t2","v":-14.6,"x":-0.5,"y":0.5,"y2":0.34},{"b":"t2","v":-14.6,"x":-0.34,"y":0.5,"y2":0.5},
{"b":"t3","v":-12.5,"x":-0.5,"y":0.5,"y2":0.372},{"b":"t3","v":-12.5,"x":-0.372,"y":0.5,"y2":0.5},
{"b":"t4","v":-10.5,"x":-0.5,"y":0.5,"y2":0.395},{"b":"t4","v":-10.5,"x":-0.395,"y":0.5,"y2":0.5},
{"b":"t5","v":-8.5,"x":-0.5,"y":0.5,"y2":0.415},{"b":"t5","v":-8.5,"x":-0.415,"y":0.5,"y2":0.5},
{"b":"t6","v":-6.5,"x":-0.5,"y":0.5,"y2":0.43},{"b":"t6","v":-6.5,"x":-0.43,"y":0.5,"y2":0.5},
{"b":"t7","v":-4.5,"x":-0.5,"y":0.5,"y2":0.44},{"b":"t7","v":-4.5,"x":-0.44,"y":0.5,"y2":0.5},
{"b":"t8","v":-2.5,"x":-0.5,"y":0.5,"y2":0.45},{"b":"t8","v":-2.5,"x":-0.45,"y":0.5,"y2":0.5},
{"b":"t9","v":-0.5,"x":-0.5,"y":0.5,"y2":0.458},{"b":"t9","v":-0.5,"x":-0.458,"y":0.5,"y2":0.5},
{"b":"t10","v":1.5,"x":-0.5,"y":0.5,"y2":0.465},{"b":"t10","v":1.5,"x":-0.465,"y":0.5,"y2":0.5},
{"b":"t11","v":3.5,"x":-0.5,"y":0.5,"y2":0.47},{"b":"t11","v":3.5,"x":-0.47,"y":0.5,"y2":0.5},
{"b":"t12","v":6,"x":-0.5,"y":0.5,"y2":0.475},{"b":"t12","v":6,"x":-0.475,"y":0.5,"y2":0.5},
{"b":"t13","v":8.5,"x":-0.5,"y":0.5,"y2":0.482},{"b":"t13","v":8.5,"x":-0.482,"y":0.5,"y2":0.5},
{"b":"t14","v":11,"x":-0.5,"y":0.5,"y2":0.49},{"b":"t14","v":11,"x":-0.49,"y":0.5,"y2":0.5},
{"b":"r1","v":-15.8,"x":0.302,"y":-0.5,"y2":-0.5},{"b":"r1","v":-15.8,"x":0.5,"y":-0.302,"y2":-0.5},
{"b":"r2","v":-14.6,"x":0.34,"y":-0.5,"y2":-0.5},{"b":"r2","v":-14.6,"x":0.5,"y":-0.34,"y2":-0.5},
{"b":"r3","v":-12.5,"x":0.39,"y":-0.5,"y2":-0.5},{"b":"r3","v":-12.5,"x":0.5,"y":-0.385,"y2":-0.5},
{"b":"r4","v":-10.5,"x":0.41,"y":-0.5,"y2":-0.5},{"b":"r4","v":-10.5,"x":0.5,"y":-0.405,"y2":-0.5},
{"b":"r5","v":-8.5,"x":0.425,"y":-0.5,"y2":-0.5},{"b":"r5","v":-8.5,"x":0.5,"y":-0.42,"y2":-0.5},
{"b":"r6","v":-6.5,"x":0.44,"y":-0.5,"y2":-0.5},{"b":"r6","v":-6.5,"x":0.5,"y":-0.435,"y2":-0.5},
{"b":"r7","v":-4.5,"x":0.445,"y":-0.5,"y2":-0.5},{"b":"r7","v":-4.5,"x":0.5,"y":-0.445,"y2":-0.5},
{"b":"r8","v":-2.5,"x":0.452,"y":-0.5,"y2":-0.5},{"b":"r8","v":-2.5,"x":0.5,"y":-0.452,"y2":-0.5},
{"b":"r9","v":-0.5,"x":0.46,"y":-0.5,"y2":-0.5},{"b":"r9","v":-0.5,"x":0.5,"y":-0.46,"y2":-0.5},
{"b":"r10","v":1.5,"x":0.467,"y":-0.5,"y2":-0.5},{"b":"r10","v":1.5,"x":0.5,"y":-0.467,"y2":-0.5},
{"b":"r11","v":3.5,"x":0.472,"y":-0.5,"y2":-0.5},{"b":"r11","v":3.5,"x":0.5,"y":-0.472,"y2":-0.5},
{"b":"r12","v":6,"x":0.477,"y":-0.5,"y2":-0.5},{"b":"r12","v":6,"x":0.5,"y":-0.477,"y2":-0.5},
{"b":"r13","v":8.5,"x":0.484,"y":-0.5,"y2":-0.5},{"b":"r13","v":8.5,"x":0.5,"y":-0.484,"y2":-0.5},
{"b":"r14","v":11,"x":0.49,"y":-0.5,"y2":-0.5},{"b":"r14","v":11,"x":0.5,"y":-0.49,"y2":-0.5}
],
"bCells":[
{"x":-0.104,"x2":-0.0984,"v":19},{"x":-0.096,"x2":-0.0904,"v":20},{"x":-0.088,"x2":-0.0824,"v":22},{"x":-0.08,"x2":-0.0744,"v":23},{"x":-0.072,"x2":-0.0664,"v":25},{"x":-0.064,"x2":-0.0584,"v":25},{"x":-0.056,"x2":-0.0504,"v":26},{"x":-0.048,"x2":-0.0424,"v":27},{"x":-0.04,"x2":-0.0344,"v":28},{"x":-0.032,"x2":-0.0264,"v":29},{"x":-0.024,"x2":-0.0184,"v":30},{"x":-0.016,"x2":-0.0104,"v":31},{"x":-0.008,"x2":-0.0024,"v":32},{"x":0,"x2":0.0056,"v":33},{"x":0.008,"x2":0.0136,"v":32},{"x":0.016,"x2":0.0216,"v":31},{"x":0.024,"x2":0.0296,"v":30},{"x":0.032,"x2":0.0376,"v":29},{"x":0.04,"x2":0.0456,"v":27},{"x":0.048,"x2":0.0536,"v":26},{"x":0.056,"x2":0.0616,"v":26},{"x":0.064,"x2":0.0696,"v":24},{"x":0.072,"x2":0.0776,"v":23},{"x":0.08,"x2":0.0856,"v":22},{"x":0.088,"x2":0.0936,"v":21},{"x":0.096,"x2":0.1016,"v":19},{"x":0.104,"x2":0.1096,"v":18},
{"x":0.172,"x2":0.1776,"v":18},{"x":0.18,"x2":0.1856,"v":19},{"x":0.188,"x2":0.1936,"v":18},{"x":0.42,"x2":0.4256,"v":20},{"x":0.428,"x2":0.4336,"v":22},{"x":0.436,"x2":0.4416,"v":20}
]
},
"hconcat":[
{"width":1258,"height":1151,"layer":[
{"data":{"name":"aBands"},"mark":{"type":"area","orient":"vertical","clip":true},"encoding":{
"x":{"field":"x","type":"quantitative","scale":{"domain":[-0.5,0.5],"nice":false,"zero":false},"axis":{"zindex":1,"values":[-0.5,-0.4,-0.3,-0.2,-0.1,0,0.1,0.2,0.3,0.4,0.5],"labelExpr":"''+datum.value","title":"Normalized spatial frequency","titlePadding":16,"labelPadding":39}},
"y":{"field":"y","type":"quantitative","scale":{"domain":[-0.5,0.5],"nice":false,"zero":false},"axis":{"zindex":1,"values":[-0.5,-0.4,-0.3,-0.2,-0.1,0,0.1,0.2,0.3,0.4,0.5],"labelExpr":"''+datum.value","title":"Normalized Doppler frequency","titlePadding":10,"labelPadding":30}},
"y2":{"field":"y2"},"detail":{"field":"b"},
"color":{"field":"v","type":"quantitative","legend":null,"scale":{"type":"linear","domain":[-20,-12.5,2.5,17.5,32.5,40],"range":["#000080","#0000ff","#00ffff","#ffff00","#ff0000","#800000"],"interpolate":"rgb"}}}},
{"data":{"name":"aCells"},"mark":{"type":"rect","clip":true},"encoding":{
"x":{"field":"x","type":"quantitative","axis":null},"x2":{"field":"x2"},"y":{"field":"x","type":"quantitative","axis":null},"y2":{"field":"x2"},
"color":{"field":"v","type":"quantitative","legend":null}}},
{"data":{"values":[{"x":0.057,"y":-0.7,"t":"("},{"x":0.103,"y":-0.7,"t":")"}]},"mark":{"type":"text","font":"Liberation Serif","fontSize":70,"color":"black","baseline":"middle"},"encoding":{"x":{"field":"x","type":"quantitative","axis":null},"y":{"field":"y","type":"quantitative","axis":null},"text":{"field":"t"}}},
{"data":{"values":[{"x":0.08,"y":-0.7,"t":"a"}]},"mark":{"type":"text","font":"Liberation Serif","fontSize":70,"fontWeight":"bold","color":"black","baseline":"middle"},"encoding":{"x":{"field":"x","type":"quantitative","axis":null},"y":{"field":"y","type":"quantitative","axis":null},"text":{"field":"t"}}},
{"data":{"name":"tv"},"mark":{"type":"rule","color":"#2a2a2a","strokeWidth":3},"encoding":{"x":{"field":"x","type":"quantitative","axis":null},"y":{"field":"y","type":"quantitative","axis":null},"y2":{"field":"y2"}}},
{"data":{"name":"th"},"mark":{"type":"rule","color":"#2a2a2a","strokeWidth":3},"encoding":{"y":{"field":"y","type":"quantitative","axis":null},"x":{"field":"x","type":"quantitative","axis":null},"x2":{"field":"x2"}}},
{"data":{"values":[{"f":1}]},"mark":{"type":"rect","fill":null,"stroke":"#2a2a2a","strokeWidth":3},"encoding":{
"x":{"datum":-0.5,"type":"quantitative","axis":{"zindex":1,"orient":"top","values":[-0.5,-0.4,-0.3,-0.2,-0.1,0,0.1,0.2,0.3,0.4,0.5],"labels":false,"title":null}},"x2":{"datum":0.5},
"y":{"datum":-0.5,"type":"quantitative","axis":{"zindex":1,"orient":"right","values":[-0.5,-0.4,-0.3,-0.2,-0.1,0,0.1,0.2,0.3,0.4,0.5],"labels":false,"title":null}},"y2":{"datum":0.5}}}
],"resolve":{"axis":{"x":"independent","y":"independent"}}},
{"width":89,"height":1155,"layer":[
{"data":{"name":"cb"},"mark":"rect","encoding":{
"y":{"field":"lo","type":"quantitative","scale":{"domain":[-20,40],"nice":false,"zero":false},"axis":{"zindex":1,"orient":"right","values":[-20,-10,0,10,20,30,40],"labelExpr":"''+datum.value","title":null,"labelFontSize":50,"labelPadding":22}},"y2":{"field":"hi"},
"color":{"field":"hi","type":"quantitative","legend":null,"scale":{"type":"linear","domain":[-20,-12.5,2.5,17.5,32.5,40],"range":["#000080","#0000ff","#00ffff","#ffff00","#ff0000","#800000"],"interpolate":"rgb"}}}},
{"data":{"name":"tc"},"mark":{"type":"rule","color":"#2a2a2a","strokeWidth":3},"encoding":{"y":{"field":"y","type":"quantitative"},"x":{"field":"x","type":"quantitative","axis":null,"scale":{"domain":[0,1],"nice":false,"zero":false}},"x2":{"field":"x2"}}},
{"data":{"values":[{"f":1}]},"mark":{"type":"rect","fill":null,"stroke":"#2a2a2a","strokeWidth":3},"encoding":{}}
]},
{"width":381,"height":10,"data":{"values":[]},"mark":"rule","encoding":{}},
{"width":1259,"height":1151,"layer":[
{"data":{"name":"bBands"},"mark":{"type":"area","orient":"vertical","clip":true},"encoding":{
"x":{"field":"x","type":"quantitative","scale":{"domain":[-0.5,0.5],"nice":false,"zero":false},"axis":{"zindex":1,"values":[-0.5,-0.4,-0.3,-0.2,-0.1,0,0.1,0.2,0.3,0.4,0.5],"labelExpr":"''+datum.value","title":"Normalized spatial frequency","titlePadding":16,"labelPadding":39}},
"y":{"field":"y","type":"quantitative","scale":{"domain":[-0.5,0.5],"nice":false,"zero":false},"axis":{"zindex":1,"values":[-0.5,-0.4,-0.3,-0.2,-0.1,0,0.1,0.2,0.3,0.4,0.5],"labelExpr":"''+datum.value","title":"Normalized Doppler frequency","titlePadding":10,"labelPadding":30}},
"y2":{"field":"y2"},"detail":{"field":"b"},
"color":{"field":"v","type":"quantitative","legend":null,"scale":{"type":"linear","domain":[-20,-12.5,2.5,17.5,32.5,40],"range":["#000080","#0000ff","#00ffff","#ffff00","#ff0000","#800000"],"interpolate":"rgb"}}}},
{"data":{"name":"bCells"},"mark":{"type":"rect","clip":true},"encoding":{
"x":{"field":"x","type":"quantitative","axis":null},"x2":{"field":"x2"},"y":{"field":"x","type":"quantitative","axis":null},"y2":{"field":"x2"},
"color":{"field":"v","type":"quantitative","legend":null}}},
{"data":{"values":[{"x":0.049,"y":-0.7,"t":"("},{"x":0.095,"y":-0.7,"t":")"}]},"mark":{"type":"text","font":"Liberation Serif","fontSize":70,"color":"black","baseline":"middle"},"encoding":{"x":{"field":"x","type":"quantitative","axis":null},"y":{"field":"y","type":"quantitative","axis":null},"text":{"field":"t"}}},
{"data":{"values":[{"x":0.072,"y":-0.7,"t":"b"}]},"mark":{"type":"text","font":"Liberation Serif","fontSize":70,"fontWeight":"bold","color":"black","baseline":"middle"},"encoding":{"x":{"field":"x","type":"quantitative","axis":null},"y":{"field":"y","type":"quantitative","axis":null},"text":{"field":"t"}}},
{"data":{"name":"tv"},"mark":{"type":"rule","color":"#2a2a2a","strokeWidth":3},"encoding":{"x":{"field":"x","type":"quantitative","axis":null},"y":{"field":"y","type":"quantitative","axis":null},"y2":{"field":"y2"}}},
{"data":{"name":"th"},"mark":{"type":"rule","color":"#2a2a2a","strokeWidth":3},"encoding":{"y":{"field":"y","type":"quantitative","axis":null},"x":{"field":"x","type":"quantitative","axis":null},"x2":{"field":"x2"}}},
{"data":{"values":[{"f":1}]},"mark":{"type":"rect","fill":null,"stroke":"#2a2a2a","strokeWidth":3},"encoding":{
"x":{"datum":-0.5,"type":"quantitative","axis":{"zindex":1,"orient":"top","values":[-0.5,-0.4,-0.3,-0.2,-0.1,0,0.1,0.2,0.3,0.4,0.5],"labels":false,"title":null}},"x2":{"datum":0.5},
"y":{"datum":-0.5,"type":"quantitative","axis":{"zindex":1,"orient":"right","values":[-0.5,-0.4,-0.3,-0.2,-0.1,0,0.1,0.2,0.3,0.4,0.5],"labels":false,"title":null}},"y2":{"datum":0.5}}}
],"resolve":{"axis":{"x":"independent","y":"independent"}}},
{"width":89,"height":1155,"layer":[
{"data":{"name":"cb"},"mark":"rect","encoding":{
"y":{"field":"lo","type":"quantitative","scale":{"domain":[-20,40],"nice":false,"zero":false},"axis":{"zindex":1,"orient":"right","values":[-20,-10,0,10,20,30,40],"labelExpr":"''+datum.value","title":null,"labelFontSize":50,"labelPadding":22}},"y2":{"field":"hi"},
"color":{"field":"hi","type":"quantitative","legend":null,"scale":{"type":"linear","domain":[-20,-12.5,2.5,17.5,32.5,40],"range":["#000080","#0000ff","#00ffff","#ffff00","#ff0000","#800000"],"interpolate":"rgb"}}}},
{"data":{"name":"tc"},"mark":{"type":"rule","color":"#2a2a2a","strokeWidth":3},"encoding":{"y":{"field":"y","type":"quantitative"},"x":{"field":"x","type":"quantitative","axis":null,"scale":{"domain":[0,1],"nice":false,"zero":false}},"x2":{"field":"x2"}}},
{"data":{"values":[{"f":1}]},"mark":{"type":"rect","fill":null,"stroke":"#2a2a2a","strokeWidth":3},"encoding":{}}
]}
],
"spacing":84,
"bounds":"flush"
}
